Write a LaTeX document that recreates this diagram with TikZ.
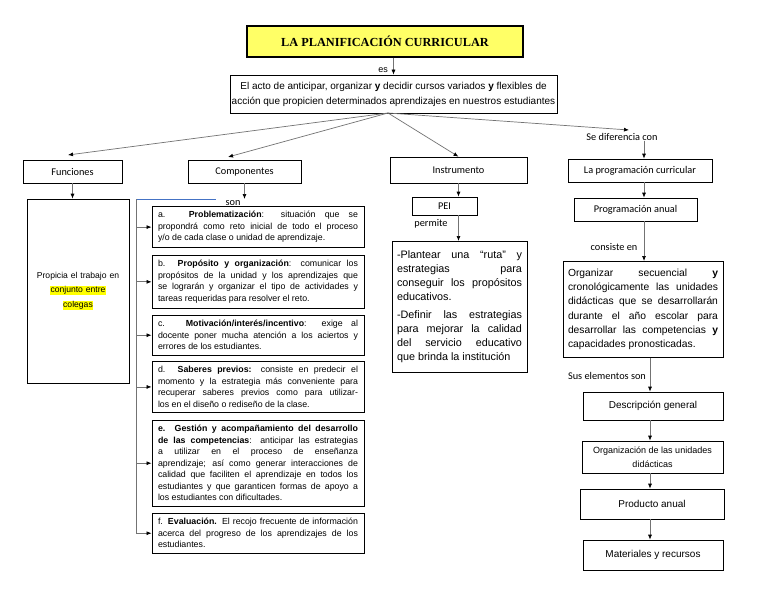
\documentclass[tikz,border=0pt]{standalone}
\usepackage{fontspec}
\setmainfont{Liberation Sans}
\newfontfamily\calfont{Carlito}
\newfontfamily\timesfont{Liberation Serif}
\usetikzlibrary{arrows.meta}
\definecolor{titleyellow}{RGB}{255,255,102}
\definecolor{lineblue}{RGB}{68,114,196}
\definecolor{hlyellow}{RGB}{255,255,0}
\setlength{\fboxsep}{0.6pt}

\begin{document}
\begin{tikzpicture}[x=1pt,y=-1pt,
        cbox/.style={draw,line width=0.7pt,inner sep=0pt,align=center,
            font=\calfont\fontsize{10.3}{12}\selectfont},
        abox/.style={draw,line width=0.7pt,inner sep=0pt,align=center,
            font=\fontsize{10}{13}\selectfont},
        notebox/.style={draw,line width=0.9pt,anchor=north,text width=200pt,
            inner xsep=6pt,inner ysep=5pt,align=justify,
            font=\fontsize{8.8}{11.5}\selectfont,
            execute at begin node={\tolerance=10000 \hyphenpenalty=10000 }},
        bigbox/.style={draw,line width=0.7pt,anchor=north,inner xsep=5pt,
            align=justify,
            execute at begin node={\tolerance=10000 \hyphenpenalty=10000 }},
        lab/.style={inner sep=0pt,font=\calfont\fontsize{10.3}{12}\selectfont},
        conn/.style={draw=black!55,line width=0.7pt,-{Latex[black,length=5pt,width=4pt]}}]

        \useasboundingbox (0,0) rectangle (768,594);
        \fill[white] (0,0) rectangle (768,594);

        \node[abox,fill=titleyellow,line width=1.2pt,minimum width=276pt,minimum height=31pt,
            font=\timesfont\bfseries\fontsize{12.3}{14}\selectfont] (title) at (385,41.5)
            {LA PLANIFICACIÓN CURRICULAR};
        \node[abox,minimum width=327pt,minimum height=38pt,font=\fontsize{10}{15}\selectfont] (main) at (393.5,94)
            {El acto de anticipar, organizar \textbf{y} decidir cursos variados \textbf{y} flexibles de\\
             acción que propicien determinados aprendizajes en nuestros estudiantes};
        \node[inner sep=0pt,font=\fontsize{9}{11}\selectfont] (es) at (383,70) {es};

        \node[cbox,minimum width=99pt,minimum height=23pt] (fun) at (72.5,171.5) {Funciones};
        \node[cbox,minimum width=113pt,minimum height=23pt] (comp) at (244.5,171.5) {Componentes};
        \node[cbox,minimum width=137pt,minimum height=26pt] (inst) at (458.5,170) {Instrumento};
        \node[cbox,minimum width=144pt,minimum height=23pt] (prog) at (640,170.5) {La programación curricular};
        \node[lab] (dif) at (622,137) {Se diferencia con};

        \node[abox,minimum width=102pt,minimum height=184pt,text width=95pt,
            font=\fontsize{8.6}{14.5}\selectfont] (prop) at (78,291)
            {Propicia el trabajo en\\\colorbox{hlyellow}{conjunto entre}\\\colorbox{hlyellow}{colegas}};

        \node[lab] (son) at (233,203) {son};
        \node[notebox] (a) at (258,206) {a. \textbf{Problematización}: situación que se\linebreak
            propondrá como reto inicial de todo el proceso\linebreak
            y/o de cada clase o unidad de aprendizaje.};
        \node[notebox] (b) at (258,255) {b. \textbf{Propósito y organización}: comunicar los\linebreak
            propósitos de la unidad y los aprendizajes que\linebreak
            se lograrán y organizar el tipo de actividades y\linebreak
            tareas requeridas para resolver el reto.};
        \node[notebox] (c) at (258,315) {c. \textbf{Motivación/interés/incentivo}: exige al\linebreak
            docente poner mucha atención a los aciertos y\linebreak
            errores de los estudiantes.};
        \node[notebox] (d) at (258,361) {d. \textbf{Saberes previos:} consiste en predecir el\linebreak
            momento y la estrategia más conveniente para\linebreak
            recuperar saberes previos como para utilizar-\linebreak
            los en el diseño o rediseño de la clase.};
        \node[notebox] (e) at (258,420) {\textbf{e. Gestión y acompañamiento del desarrollo}\linebreak
            \textbf{de las competencias}: anticipar las estrategias\linebreak
            a utilizar en el proceso de enseñanza\linebreak
            aprendizaje; así como generar interacciones de\linebreak
            calidad que faciliten el aprendizaje en todos los\linebreak
            estudiantes y que garanticen formas de apoyo a\linebreak
            los estudiantes con dificultades.};
        \node[notebox] (f) at (258,513) {f. \textbf{Evaluación.} El recojo frecuente de información\linebreak
            acerca del progreso de los aprendizajes de los\linebreak
            estudiantes.};

        \node[cbox,minimum width=65pt,minimum height=18pt] (pei) at (444.5,206) {PEI};
        \node[lab] (perm) at (431,224) {permite};
        \node[bigbox,text width=125pt,minimum height=131pt,font=\fontsize{10.8}{14}\selectfont] (insttext) at (459.5,241)
            {-Plantear una “ruta” y\linebreak
            estrategias para\linebreak
            conseguir los propósitos\linebreak
            educativos.\par\vspace{4pt}
            -Definir las estrategias\linebreak
            para mejorar la calidad\linebreak
            del servicio educativo\linebreak
            que brinda la institución};

        \node[cbox,minimum width=123pt,minimum height=23pt] (progan) at (635.5,209.5) {Programación anual};
        \node[lab] (cons) at (614,247) {consiste en};
        \node[bigbox,text width=150pt,minimum height=96pt,font=\fontsize{10.3}{14.3}\selectfont] (org) at (643,261)
            {Organizar secuencial \textbf{y}\linebreak
            cronológicamente las unidades\linebreak
            didácticas que se desarrollarán\linebreak
            durante el año escolar para\linebreak
            desarrollar las competencias \textbf{y}\linebreak
            capacidades pronosticadas.};
        \node[lab] (sus) at (607,376) {Sus elementos son};
        \node[abox,minimum width=140pt,minimum height=28pt] (desc) at (653,406) {Descripción general};
        \node[abox,minimum width=141pt,minimum height=32pt,font=\fontsize{9}{13.5}\selectfont] (orgu) at (652.5,457)
            {Organización de las unidades\\didácticas};
        \node[abox,minimum width=144pt,minimum height=30pt] (prod) at (652,504) {Producto anual};
        \node[abox,minimum width=140pt,minimum height=30pt] (mat) at (653,555) {Materiales y recursos};

        \coordinate (hub) at (388,113);
        \coordinate (funTip) at (68,155);
        \coordinate (compTip) at (228,157);
        \coordinate (difTip) at (629,130);
        \coordinate (spine) at (136,199);
        \coordinate (blueEnd) at (216,199);
        \coordinate (rcol) at (644,0);
        \coordinate (lcol) at (650,0);

        \draw[conn] (title.south -| main.north) -- (main.north);
        \draw[conn] (hub) -- (funTip);
        \draw[conn] (hub) -- (compTip);
        \draw[conn] (hub) -- (inst.north);
        \draw[conn] (hub) -- (difTip);

        \draw[conn] (fun.south) -- (fun.south |- prop.north);
        \draw[conn] (comp.south) -- (comp.south |- spine);
        \draw[lineblue,line width=0.7pt] (spine) -- (blueEnd);
        \draw[black!55,line width=0.7pt] (spine) -- (spine |- f.west);
        \draw[conn] (spine |- a.west) -- (a.west);
        \draw[conn] (spine |- b.west) -- (b.west);
        \draw[conn] (spine |- c.west) -- (c.west);
        \draw[conn] (spine |- d.west) -- (d.west);
        \draw[conn] (spine |- e.west) -- (e.west);
        \draw[conn] (spine |- f.west) -- (f.west);

        \draw[conn] (inst.south) -- (inst.south |- pei.north);
        \draw[conn] (pei.south -| inst.south) -- (insttext.north -| inst.south);

        \draw[conn] (dif.south -| rcol) -- (prog.north -| rcol);
        \draw[conn] (prog.south -| rcol) -- (progan.north -| rcol);
        \draw[conn] (progan.south -| rcol) -- (org.north -| rcol);
        \draw[conn] (org.south -| lcol) -- (desc.north -| lcol);
        \draw[conn] (desc.south -| lcol) -- (orgu.north -| lcol);
        \draw[conn] (orgu.south -| lcol) -- (prod.north -| lcol);
        \draw[conn] (prod.south -| lcol) -- (mat.north -| lcol);
    \end{tikzpicture}
\end{document}
